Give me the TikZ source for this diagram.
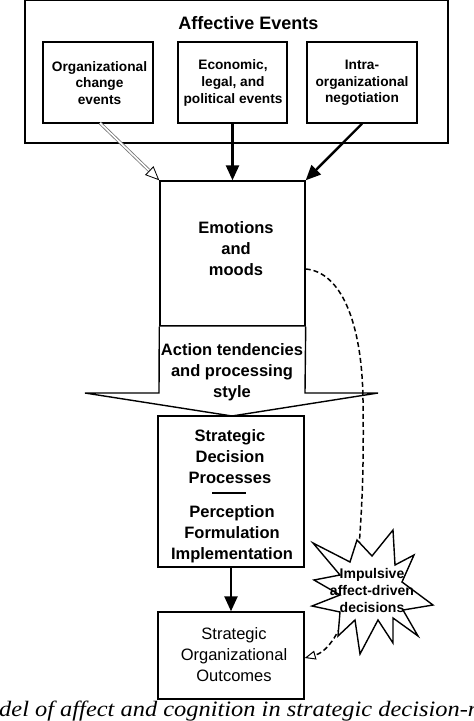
\documentclass[tikz,border=0pt]{standalone}
\usepackage{fontspec}
\setmainfont{Liberation Sans}
\newfontfamily\capfont{Liberation Serif}
\usetikzlibrary{arrows.meta,calc}
\tikzset{
  frame/.style={draw, line width=1.4pt, inner sep=0pt, fill=white},
  smallbold/.style={align=center, inner sep=0pt, font=\bfseries\fontsize{13.7}{16.7}\selectfont},
  bigbold/.style={align=center, inner sep=0pt, font=\bfseries\fontsize{16.5}{21}\selectfont},
  bigreg/.style={align=center, inner sep=0pt, font=\fontsize{16.5}{21}\selectfont},
  boldarrow/.style={line width=2.4pt, -{Triangle[length=15pt,width=13pt]}},
}
\begin{document}
\begin{tikzpicture}[x=1pt,y=-1pt]
\clip (0,0) rectangle (474,721);
\fill[white] (0,0) rectangle (474,721);
% outer box
\node[frame, minimum width=423pt, minimum height=143pt] (outer) at (236.5,71.5) {};
\node[inner sep=0pt, font=\bfseries\fontsize{18}{21}\selectfont] (title) at (248.5,23) {Affective Events};
% event boxes
\node[frame, minimum width=110pt, minimum height=81pt] (b1) at (98,82.5) {};
\node[frame, minimum width=109pt, minimum height=81pt] (b2) at (232.5,82.5) {};
\node[frame, minimum width=110pt, minimum height=81pt] (b3) at (362,82.5) {};
\node[smallbold] (t1) at (99.5,83) {Organizational\\change\\events};
\node[smallbold] (t2) at (233,83) {Economic,\\legal, and\\political events};
\node[smallbold] (t3) at (362,83) {Intra-\\organizational\\negotiation};
% emotions box
\node[frame, minimum width=145pt, minimum height=145pt] (emo) at (232.5,253.5) {};
\node[bigbold] (emot) at (236,249) {Emotions\\and\\moods};
% action tendencies arrow
\coordinate (tip) at (232,416);
\draw[line width=1.4pt, fill=white] (emo.south west) -- (159,393) -- (85,393) -- (tip) -- (378,393) -- (305,393) -- (emo.south east);
\node[bigbold] (act) at (232,372) {Action tendencies\\and processing\\style};
% strategic decision box
\node[frame, minimum width=146pt, minimum height=151pt] (sd) at (231,491.5) {};
\node[bigbold] (sdt) at (230,457) {Strategic\\Decision\\Processes};
\node[bigbold] (sdb) at (232,534) {Perception\\Formulation\\Implementation};
\coordinate (r1) at (212,493);
\coordinate (r2) at (246,493);
\draw[line width=1.5pt] (r1) -- (r2);
% outcomes box
\node[frame, minimum width=146pt, minimum height=87pt] (out) at (231,655.5) {};
\node[bigreg] (outt) at (234,655) {Strategic\\Organizational\\Outcomes};
% arrows from events
\coordinate (a1s) at (100,123);
\draw[black!55, line width=0.8pt, double=white, double distance=1.6pt, shorten >=13pt] (a1s) -- (emo.north west);
\draw[line width=0.8pt, -{Triangle[open,length=14pt,width=12pt]}] ($(emo.north west)!14pt!(a1s)$) -- (emo.north west);
\draw[boldarrow] (b2.south) -- (emo.north);
\draw[boldarrow] (b3.south) -- (emo.north east);
\draw[boldarrow] (sd.south) -- (out.north);
% dashed impulsive path
\coordinate (dstart) at ([yshift=-15.5pt]emo.east);
\coordinate (dend) at ([yshift=-2.5pt]out.east);
\draw[line width=1.5pt, dash pattern=on 5pt off 3pt, -{Triangle[open,length=11pt,width=9pt,line width=1pt]}]
  (dstart) .. controls (340,272) and (362,320) .. (363,400)
  .. controls (364,470) and (362,510) .. (358,560)
  .. controls (352,610) and (334,650) .. (dend);
% starburst
\draw[line width=1.4pt, fill=white, line join=miter]
  (393,530) -- (395,565) -- (414,555) -- (402,582) -- (433,605) -- (403,610) -- (418,636)
  -- (393,618) -- (393,643) -- (378,620) -- (360,654) -- (355,620) -- (338,636)
  -- (340,612) -- (312,606) -- (340,595) -- (314,580) -- (340,575) -- (313,543)
  -- (350,562) -- (357,540) -- (372,556) -- cycle;
\node[align=center, inner sep=0pt, font=\bfseries\fontsize{14}{17}\selectfont] (imp) at (372,590) {Impulsive\\affect-driven\\decisions};
% caption
\node[anchor=base west, inner sep=0pt, font=\capfont\itshape\fontsize{22}{26}\selectfont] (cap) at (-1,716) {\scalebox{1.11}[1]{del of affect and cognition in strategic decision-m}};
\end{tikzpicture}
\end{document}
